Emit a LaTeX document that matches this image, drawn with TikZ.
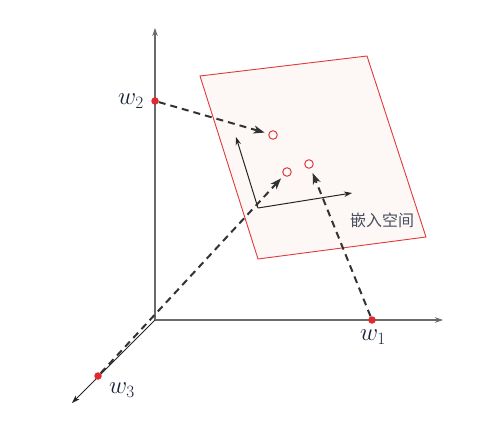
\documentclass[tikz,border=0pt]{standalone}
\usepackage{fontspec}
\newfontfamily\cjk{Noto Sans CJK SC}
\usetikzlibrary{arrows.meta}
\definecolor{planefill}{HTML}{FDF8F5}
\definecolor{planeedge}{HTML}{E0393E}
\definecolor{dotred}{HTML}{E0282E}
\definecolor{dashgray}{HTML}{333333}
\definecolor{axisgray}{HTML}{6A6A6A}
\definecolor{labelblue}{HTML}{1A2238}
\tikzset{
  axisline/.style={draw=axisgray, line width=1.1pt, -{Stealth[length=8pt,width=5.5pt]}},
  zaxisline/.style={draw=black!85, line width=0.9pt, -{Stealth[length=8pt,width=5.5pt]}},
  innerax/.style={draw=black!85, line width=1pt, -{Stealth[length=8pt,width=5.5pt]}},
  proj/.style={draw=dashgray, line width=2pt, dash pattern=on 7pt off 5pt, -{Stealth[length=11pt,width=8pt,inset=3pt]}},
  wdot/.style={circle, fill=dotred, inner sep=0pt, minimum size=7.5pt},
  odot/.style={circle, draw=planeedge, fill=white!90!planefill, line width=1pt, inner sep=0pt, minimum size=8.5pt},
  wlabel/.style={text=labelblue, font=\fontsize{25}{30}\selectfont, inner sep=1pt},
  planelabel/.style={text=labelblue!80, font=\cjk\fontsize{16}{18}\selectfont, inner sep=0pt},
}
\begin{document}
\begin{tikzpicture}[x=1pt,y=-1pt]
\useasboundingbox (0,0) rectangle (493,425);
% plane
\coordinate (p1) at (200,76);
\coordinate (p2) at (367,56);
\coordinate (p3) at (426,237);
\coordinate (p4) at (258,259);
\draw[draw=planeedge, fill=planefill, line width=0.9pt] (p1) -- (p2) -- (p3) -- (p4) -- cycle;
% axes
\coordinate (O) at (155,320);
\coordinate (ytip) at (155,28);
\coordinate (xtip) at (443,320);
\coordinate (ztip) at (72,403);
\draw[axisline] (O) -- (ytip);
\draw[axisline] (O) -- (xtip);
\draw[zaxisline] (O) -- (ztip);
% inner axes
\coordinate (iO) at (258,208);
\coordinate (iy) at (236,137);
\coordinate (ix) at (352,193);
\draw[innerax] (iO) -- (iy);
\draw[innerax] (iO) -- (ix);
% points
\node[wdot] (w2) at (155,101) {};
\node[wdot] (w1) at (372,320) {};
\node[wdot] (w3) at (98,376) {};
\node[odot] (c2) at (273,135) {};
\node[odot] (c3) at (287,172) {};
\node[odot] (c1) at (309,164) {};
% projections
\draw[proj, shorten >=4pt] (w2) -- (c2);
\draw[proj, shorten >=4pt] (w3) -- (c3);
\draw[proj, shorten >=5pt] (w1) -- (c1);
% labels
\node[wlabel] at (131,101) {$w_2$};
\node[wlabel] at (373,337) {$w_1$};
\node[wlabel] at (122,390) {$w_3$};
\node[planelabel] at (382,220) {嵌入空间};
\end{tikzpicture}
\end{document}
